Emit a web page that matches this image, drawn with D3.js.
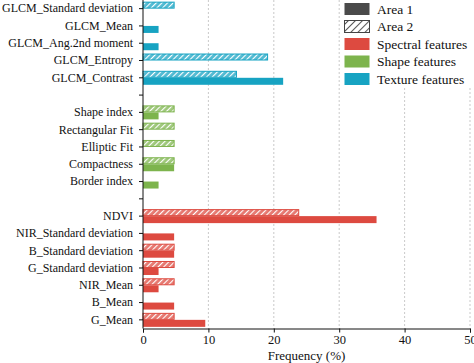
<!DOCTYPE html>
<html>
<head>
<meta charset="utf-8">
<script src="https://cdn.jsdelivr.net/npm/d3@7"></script>
<style>
  body { margin: 0; background: #fff; }
  svg text { font-family: "Times New Roman", "Liberation Serif", "DejaVu Serif", serif !important; }
</style>
</head>
<body>
<div id="chart"></div>
<script>
// features from top to bottom, null = empty slot between groups
const categories = ["GLCM_Standard deviation", "GLCM_Mean", "GLCM_Ang.2nd moment", "GLCM_Entropy", "GLCM_Contrast",
  null, "Shape index", "Rectangular Fit", "Elliptic Fit", "Compactness", "Border index",
  null, "NDVI", "NIR_Standard deviation", "B_Standard deviation", "G_Standard deviation", "NIR_Mean", "B_Mean", "G_Mean"];
const featureType = ["texture", "texture", "texture", "texture", "texture",
  null, "shape", "shape", "shape", "shape", "shape",
  null, "spectral", "spectral", "spectral", "spectral", "spectral", "spectral", "spectral"];
const area1 = [0, 2.38, 2.38, 0, 21.43, null, 2.38, 0, 0, 4.76, 2.38, null, 35.71, 4.76, 4.76, 2.38, 2.38, 4.76, 9.52];
const area2 = [4.76, 0, 0, 19.05, 14.29, null, 4.76, 4.76, 4.76, 4.76, 0, null, 23.81, 0, 4.76, 4.76, 4.76, 0, 4.76];
const xTicks = [0, 10, 20, 30, 40, 50];
const legendItems = ["Area 1", "Area 2", "Spectral features", "Shape features", "Texture features"];

const colors = { spectral: "#dd4a40", shape: "#7db44d", texture: "#17a3c2" };

const width = 474, height = 363;
const margin = { top: 0, right: 4, bottom: 34.5, left: 143 };

const svg = d3.select("#chart").append("svg")
  .attr("width", width)
  .attr("height", height)
  .attr("font-family", "'Times New Roman', 'Liberation Serif', serif");

const defs = svg.append("defs");
Object.entries(colors).forEach(([k, c]) => {
  const p = defs.append("pattern")
    .attr("id", "hatch-" + k)
    .attr("patternUnits", "userSpaceOnUse")
    .attr("width", 4).attr("height", 4)
    .attr("patternTransform", "rotate(45)");
  p.append("rect").attr("width", 4).attr("height", 4).attr("fill", c).attr("opacity", 0.75);
  p.append("line").attr("x1", 0).attr("y1", 0).attr("x2", 0).attr("y2", 4)
    .attr("stroke", "#fff").attr("stroke-width", 2.2);
});
const lp = defs.append("pattern")
  .attr("id", "hatch-legend")
  .attr("patternUnits", "userSpaceOnUse")
  .attr("width", 5).attr("height", 5)
  .attr("patternTransform", "rotate(45)");
lp.append("rect").attr("width", 5).attr("height", 5).attr("fill", "#fff");
lp.append("line").attr("x1", 0).attr("y1", 0).attr("x2", 0).attr("y2", 5)
  .attr("stroke", "#444").attr("stroke-width", 1.8);

const x = d3.scaleLinear().domain([0, 50]).range([margin.left, width - margin.right]);
const y = d3.scaleBand().domain(d3.range(categories.length))
  .range([margin.top, height - margin.bottom]).padding(0);

// dashed grid
svg.append("g")
  .selectAll("line")
  .data(xTicks.slice(1))
  .join("line")
  .attr("x1", d => x(d)).attr("x2", d => x(d))
  .attr("y1", margin.top).attr("y2", height - margin.bottom)
  .attr("stroke", "#bbb")
  .attr("stroke-dasharray", "2,2")
  .attr("stroke-width", 0.8);

// bars
const barH = 7;
const rows = categories.map((c, i) => ({ i, c, t: featureType[i], a1: area1[i], a2: area2[i] }))
  .filter(d => d.c !== null);

const g = svg.append("g");
g.selectAll("rect.a2")
  .data(rows.filter(d => d.a2 > 0))
  .join("rect")
  .attr("class", "a2")
  .attr("x", x(0))
  .attr("y", d => y(d.i) + y.bandwidth() / 2 - barH + 0.5)
  .attr("width", d => x(d.a2) - x(0))
  .attr("height", barH - 1)
  .attr("fill", d => `url(#hatch-${d.t})`)
  .attr("stroke", d => colors[d.t])
  .attr("stroke-width", 1);

g.selectAll("rect.a1")
  .data(rows.filter(d => d.a1 > 0))
  .join("rect")
  .attr("class", "a1")
  .attr("x", x(0))
  .attr("y", d => y(d.i) + y.bandwidth() / 2)
  .attr("width", d => x(d.a1) - x(0))
  .attr("height", barH)
  .attr("fill", d => colors[d.t]);

// axes
const yAxis = svg.append("g")
  .attr("transform", `translate(${margin.left},0)`)
  .call(d3.axisLeft(y).tickSize(4).tickPadding(6).tickFormat(i => categories[i] || ""));
const xAxis = svg.append("g")
  .attr("transform", `translate(0,${height - margin.bottom})`)
  .call(d3.axisBottom(x).tickValues(xTicks).tickSize(4).tickPadding(3));
[yAxis, xAxis].forEach(a => {
  a.attr("font-family", null);
  a.selectAll("text").attr("fill", "#111");
  a.select(".domain").attr("stroke", "#111");
  a.selectAll(".tick line").attr("stroke", "#111");
});
yAxis.selectAll("text").attr("font-size", 12);
xAxis.selectAll("text").attr("font-size", 12.5);
yAxis.select(".domain").attr("d", `M-0,${height - margin.bottom}V${margin.top}`);

svg.append("text")
  .attr("x", (x(0) + x(50)) / 2)
  .attr("y", height - 3)
  .attr("text-anchor", "middle")
  .attr("font-size", 13)
  .attr("fill", "#111")
  .text("Frequency (%)");

// legend
const legend = svg.append("g").attr("transform", "translate(340,0)");
legend.append("rect").attr("x", 0).attr("y", 0).attr("width", 134).attr("height", 87).attr("fill", "#fff");
const legendFill = ["#4a4a4a", "url(#hatch-legend)", colors.spectral, colors.shape, colors.texture];
legendItems.forEach((name, i) => {
  const ly = 3 + i * 17.5;
  legend.append("rect")
    .attr("x", 4.5).attr("y", ly)
    .attr("width", 25).attr("height", 12)
    .attr("fill", legendFill[i])
    .attr("stroke", i === 1 ? "#444" : "none")
    .attr("stroke-width", 1);
  legend.append("text")
    .attr("x", 37).attr("y", ly + 6)
    .attr("dy", "0.35em")
    .attr("font-size", 13.5)
    .attr("fill", "#111")
    .text(name);
});
</script>
</body>
</html>
